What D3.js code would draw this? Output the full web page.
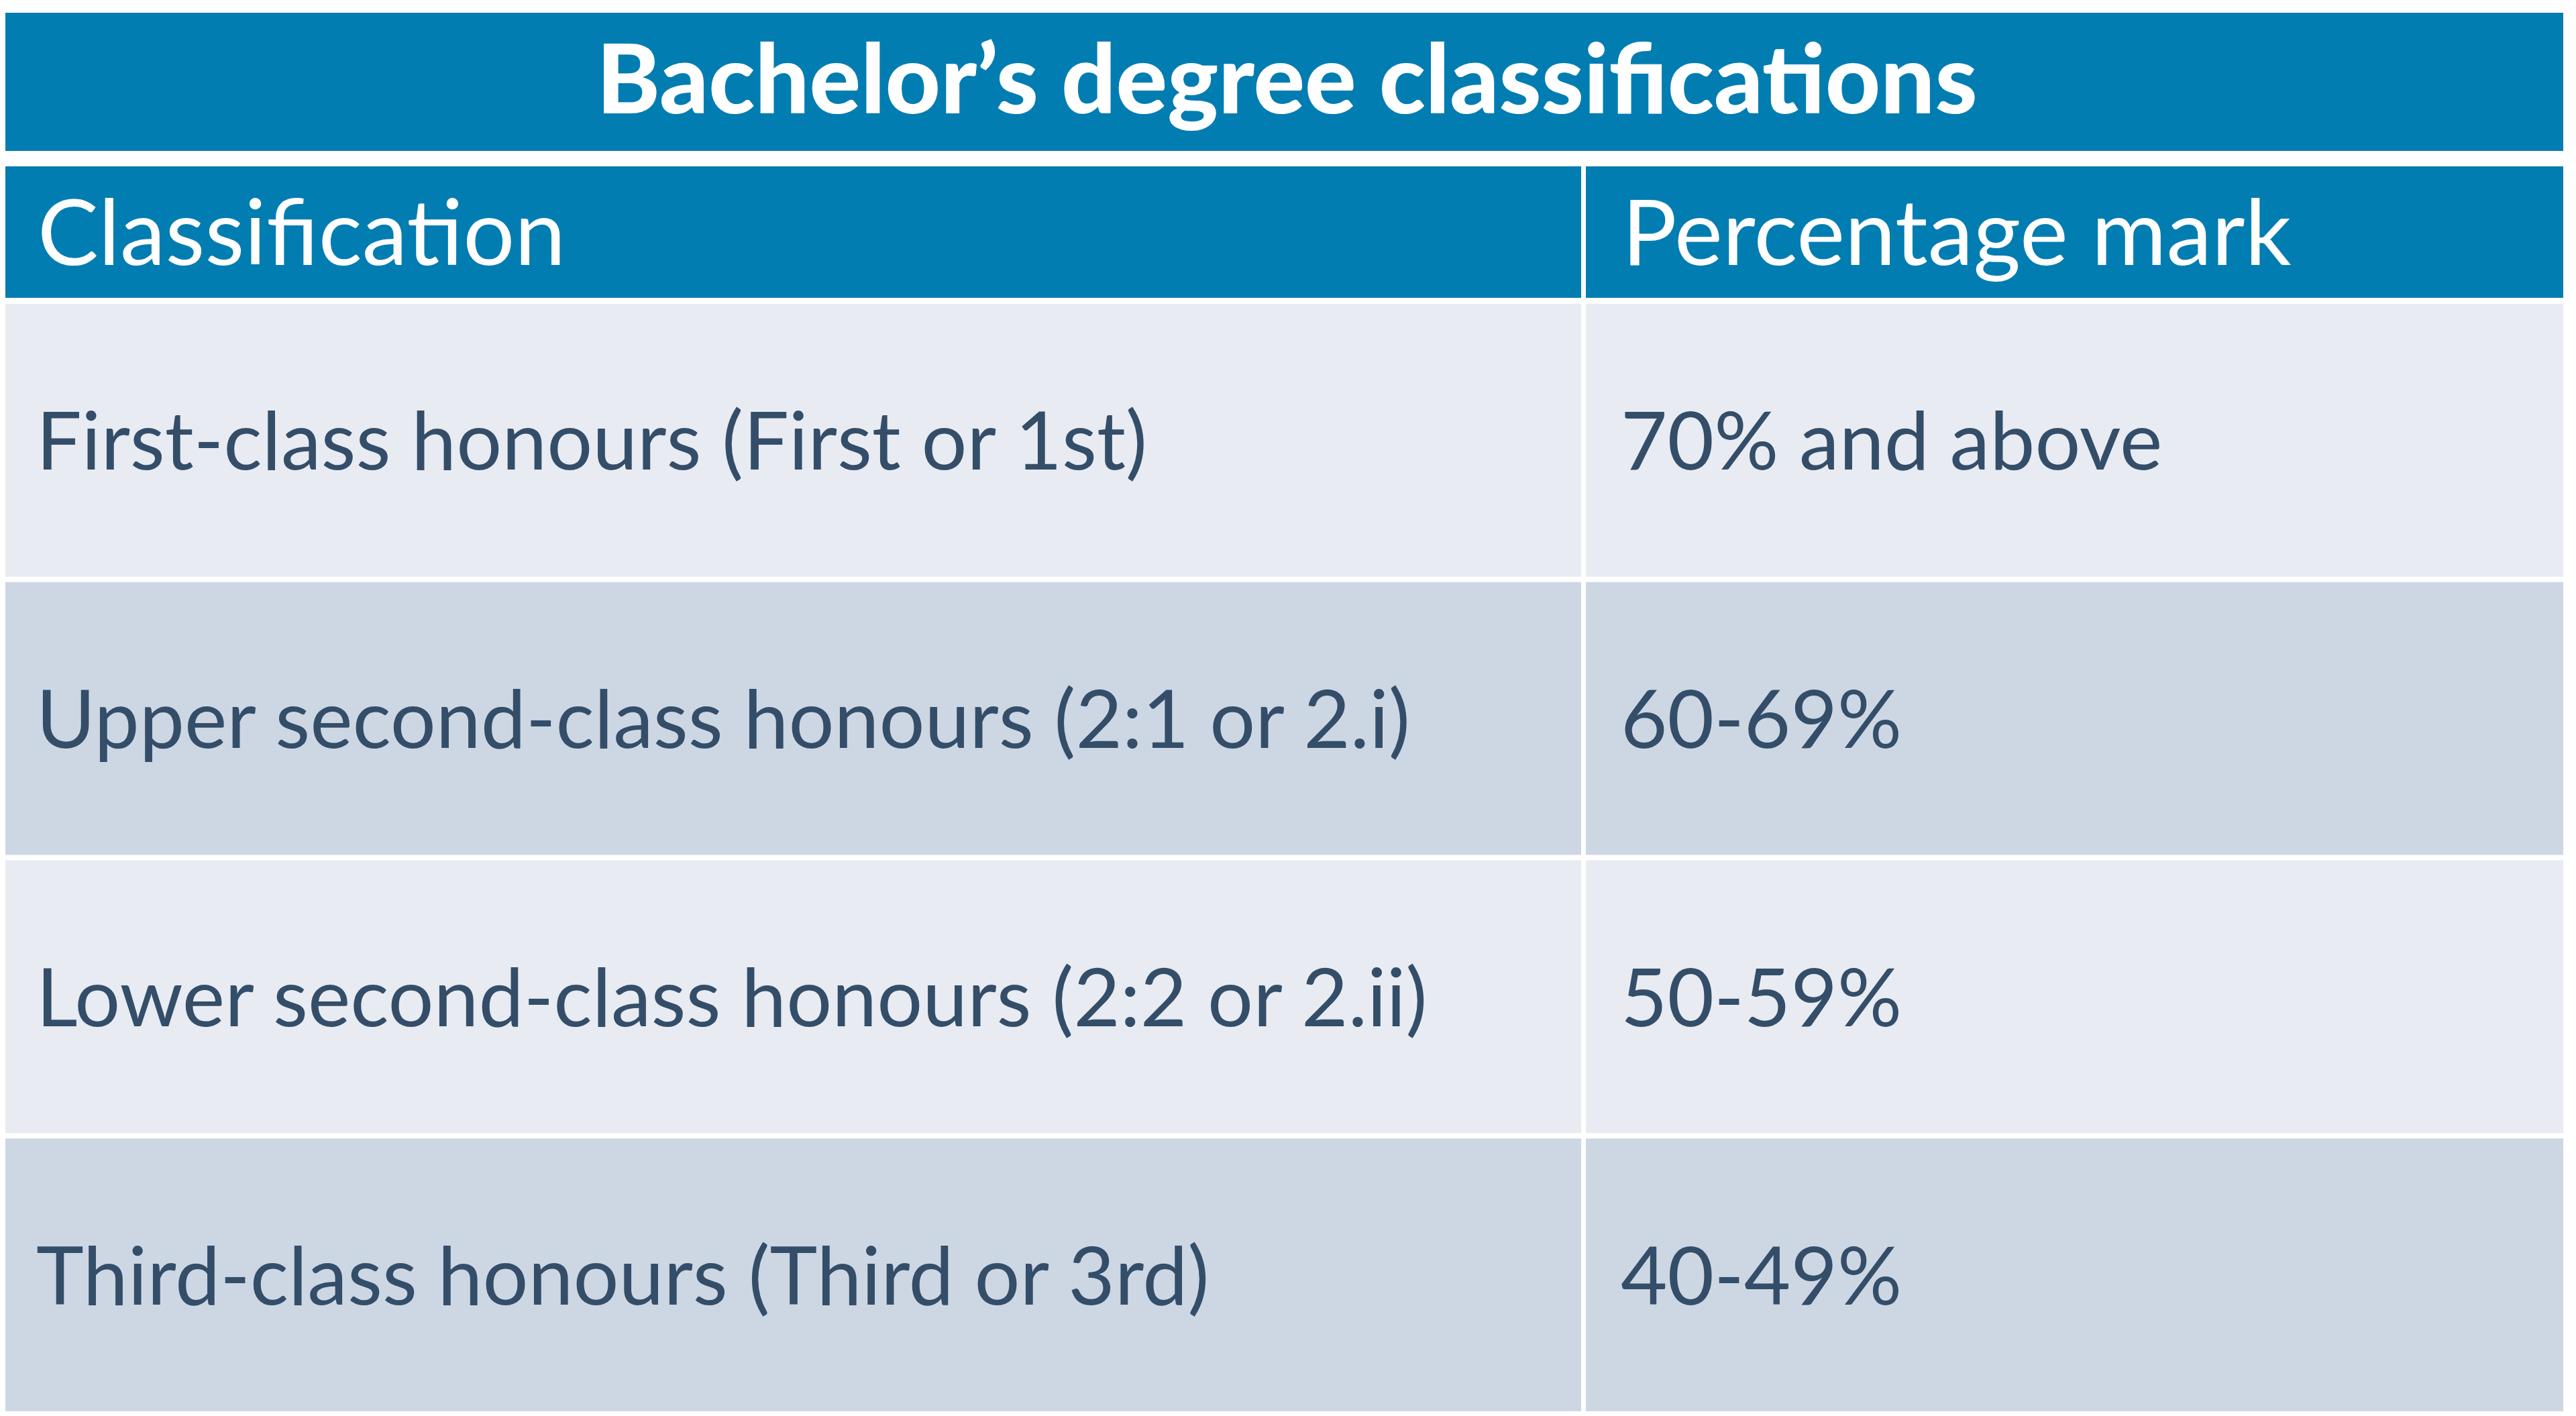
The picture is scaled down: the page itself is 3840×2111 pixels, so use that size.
<!DOCTYPE html>
<html>
<head>
<meta charset="utf-8">
<script src="https://cdn.jsdelivr.net/npm/d3@7"></script>
<style>
  html, body { margin: 0; padding: 0; background: #ffffff; }
  svg { display: block; }
</style>
</head>
<body>
<svg id="chart"></svg>
<script>
const width = 3840;
const height = 2111;

// Table content
const title = "Bachelor\u2019s degree classifications";
const headers = ["Classification", "Percentage mark"];
const classifications = [
    "First-class honours (First or 1st)",
    "Upper second-class honours (2:1 or 2.i)",
    "Lower second-class honours (2:2 or 2.ii)",
    "Third-class honours (Third or 3rd)"
];
const marks = ["70% and above", "60-69%", "50-59%", "40-49%"];

const rows = classifications.map((c, i) => ({ cells: [c, marks[i]], i }));

const blue = "#027db1";
const rowFill = ["#e8ebf2", "#cdd7e4"];
const textColor = "#344e69";
const font = "Lato, 'Noto Sans', sans-serif";

const left = 8, right = 3821;
const gap = 8;

const svg = d3.select("#chart")
    .attr("width", width)
    .attr("height", height);

// Column positions: first column ends at the divider
const x = d3.scaleOrdinal()
    .domain([0, 1])
    .range([left, 2364]);
const colWidth = [2357 - left, right - 2364];

// Row positions for the body
const y = d3.scaleBand()
    .domain(d3.range(rows.length))
    .range([453, 2104])
    .paddingInner(gap / 413)
    .paddingOuter(0);

// Title bar
svg.append("rect")
    .attr("x", left).attr("y", 19)
    .attr("width", right - left).attr("height", 206)
    .attr("fill", blue);

svg.append("text")
    .attr("x", (left + right) / 2 + 4)
    .attr("y", 122 + 47)
    .attr("text-anchor", "middle")
    .attr("fill", "#ffffff")
    .attr("font-family", font)
    .attr("font-weight", 900)
    .attr("font-size", 143)
    .text(title);

// Header row
const header = svg.append("g");
header.selectAll("rect")
    .data(headers)
    .join("rect")
    .attr("x", (d, i) => x(i))
    .attr("y", 248)
    .attr("width", (d, i) => colWidth[i])
    .attr("height", 196)
    .attr("fill", blue);

header.selectAll("text")
    .data(headers)
    .join("text")
    .attr("x", (d, i) => x(i) + (i ? 54 : 48))
    .attr("y", 346 + 49)
    .attr("fill", "#ffffff")
    .attr("font-family", font)
    .attr("font-weight", 400)
    .attr("font-size", 136)
    .text(d => d);

// Body rows
const row = svg.append("g")
    .selectAll("g")
    .data(rows)
    .join("g")
    .attr("transform", d => `translate(0,${y(d.i)})`);

row.selectAll("rect")
    .data(d => d.cells.map((c, j) => ({ c, j, i: d.i })))
    .join("rect")
    .attr("x", d => x(d.j))
    .attr("y", 0)
    .attr("width", d => colWidth[d.j])
    .attr("height", y.bandwidth())
    .attr("fill", d => rowFill[d.i % 2]);

row.selectAll("text")
    .data(d => d.cells.map((c, j) => ({ c, j, i: d.i })))
    .join("text")
    .attr("x", d => x(d.j) + (d.j ? 52 : 46))
    .attr("y", y.bandwidth() / 2 + 44)
    .attr("fill", textColor)
    .attr("font-family", font)
    .attr("font-weight", 400)
    .attr("font-size", 120)
    .text(d => d.c);
</script>
</body>
</html>
